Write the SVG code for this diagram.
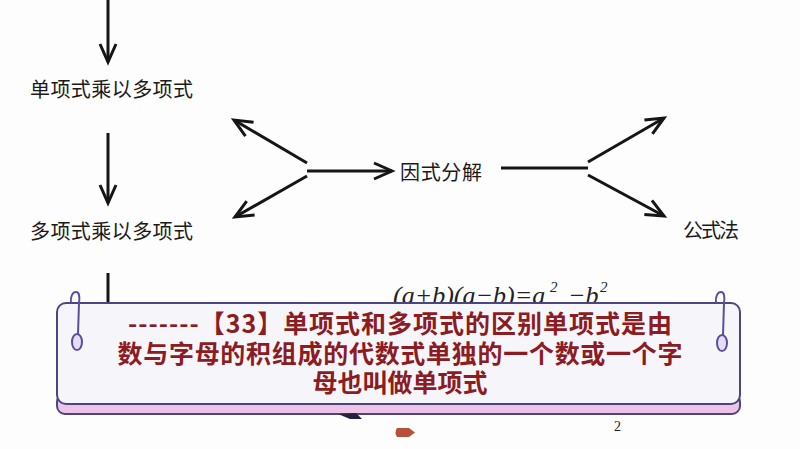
<svg xmlns="http://www.w3.org/2000/svg" width="800" height="449" viewBox="0 0 800 449">
<defs>
<style>
.lbl{font-family:"Noto Sans CJK SC","Noto Sans",sans-serif;font-size:20px;fill:#1a1a1a}
.ln{stroke:#151515;stroke-width:3;fill:none}
.ban{font-family:"Noto Sans CJK SC","Noto Sans",sans-serif;font-size:25px;font-weight:700;fill:#8c1b22;text-anchor:middle}
.math{font-family:"Liberation Serif",serif;font-style:italic;fill:#222}
.ring{fill:none;stroke:#5a4f9e;stroke-width:2}
</style>
<marker id="ah" markerUnits="userSpaceOnUse" viewBox="-24 -12 28 24" refX="0" refY="0" markerWidth="28" markerHeight="24" orient="auto">
<path d="M-18,-8 L0,0 L-18,8" fill="none" stroke="#151515" stroke-width="3" stroke-linejoin="miter"/>
</marker>
</defs>
<rect width="800" height="449" fill="#fdfdfd"/>

<g id="connectors">
<line class="ln" x1="108" y1="0" x2="108" y2="62" marker-end="url(#ah)"/>
<line class="ln" x1="108" y1="133" x2="108" y2="203" marker-end="url(#ah)"/>
<line class="ln" x1="108" y1="273" x2="108" y2="310"/>
<line class="ln" x1="307" y1="171" x2="392" y2="171" marker-end="url(#ah)"/>
<line class="ln" x1="307" y1="163" x2="234" y2="120" marker-end="url(#ah)"/>
<line class="ln" x1="307" y1="176" x2="235" y2="217" marker-end="url(#ah)"/>
<line class="ln" x1="501" y1="168" x2="588" y2="168" stroke-width="2.5"/>
<line class="ln" x1="588" y1="162" x2="664" y2="118" marker-end="url(#ah)"/>
<line class="ln" x1="588" y1="175" x2="664" y2="216" marker-end="url(#ah)"/>
</g>

<g id="n1"><text class="lbl" x="30" y="97" textLength="163">单项式乘以多项式</text></g>
<g id="n2"><text class="lbl" x="30" y="239" textLength="163">多项式乘以多项式</text></g>
<g id="n3"><text class="lbl" x="400" y="180" textLength="82">因式分解</text></g>
<g id="n4"><text class="lbl" x="683" y="238" textLength="56">公式法</text></g>

<g id="formula">
<text class="math" font-size="26" x="393" y="304">(a+b)(a−b)=a</text>
<text class="math" font-size="15" x="550" y="292">2</text>
<text class="math" font-size="26" x="568" y="304">−b</text>
<text class="math" font-size="15" x="600" y="292">2</text>
</g>

<g id="banner">
<rect x="57" y="394" width="683" height="20" rx="8" fill="#efc3e6" stroke="#4a4684" stroke-width="2"/>
<rect x="57" y="303" width="683" height="101" rx="9" fill="#f6f5f9" stroke="#4a4684" stroke-width="2"/>
<path class="ring" d="M71,303 C70,296 73,292 76,292 C79,292 80,296 79,303 L78,334"/>
<ellipse cx="77" cy="342" rx="5" ry="8" fill="#e6dcf3" stroke="#5a4f9e" stroke-width="2"/>
<path class="ring" d="M716,303 C715,296 718,292 721,292 C724,292 725,296 724,303 L723,335"/>
<ellipse cx="722" cy="343" rx="5" ry="8" fill="#e6dcf3" stroke="#5a4f9e" stroke-width="2"/>
<text class="ban" x="400" y="333" textLength="544">-------【33】单项式和多项式的区别单项式是由</text>
<text class="ban" x="400" y="363" textLength="565">数与字母的积组成的代数式单独的一个数或一个字</text>
<text class="ban" x="400" y="392">母也叫做单项式</text>
</g>

<polygon points="338,414 356,413 362,419 350,419" fill="#23233a"/>
<path d="M397,428 L409,428 L415,432.5 L409,437 L397,437 Q394,432.5 397,428 Z" fill="#b4533a"/>
<text x="614" y="431" font-family="Liberation Serif,serif" font-size="14" fill="#222">2</text>
</svg>
